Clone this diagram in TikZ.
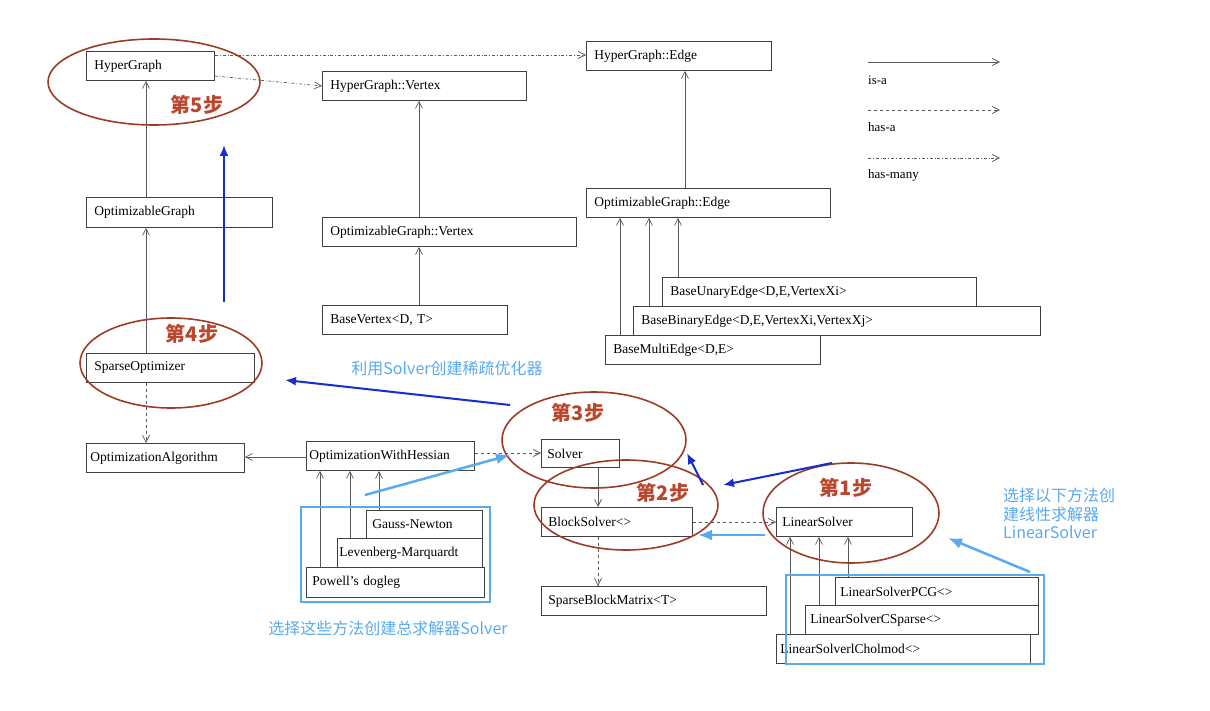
\documentclass[tikz,border=0pt]{standalone}
\usepackage{fontspec}
\setmainfont{Liberation Serif}
\newfontfamily\cjk{Noto Sans CJK SC}
\usetikzlibrary{arrows.meta}
\definecolor{stepred}{RGB}{185,70,45}
\definecolor{darkblue}{RGB}{25,45,200}
\definecolor{lightblue}{RGB}{90,170,240}
\tikzset{
  cls/.style={draw=black!75, line width=0.8pt, fill=white, inner sep=0pt, font=\fontsize{13.5}{15}\selectfont},
  isa/.style={draw=black!65, line width=0.7pt, -{Straight Barb[length=7pt,width=7pt]}},
  hasa/.style={isa, dashed},
  hasmany/.style={isa, dash dot},
  stepov/.style={draw=stepred!85!black, line width=1.6pt},
  steplab/.style={text=stepred, font=\cjk\bfseries\fontsize{20}{22}\selectfont},
  bigarrow/.style={draw=darkblue, line width=2pt, -{Latex[length=11pt,width=9pt]}},
  lightarrow/.style={draw=lightblue, line width=2.5pt, -{Latex[length=14pt,width=11pt]}},
  bluetxt/.style={text=lightblue, font=\cjk\fontsize{16}{17}\selectfont},
  selbox/.style={draw=lightblue, line width=2.5pt}
}
\begin{document}
\begin{tikzpicture}[x=1pt,y=-1pt]
\useasboundingbox (0,0) rectangle (1210,711);
\fill[white] (0,0) rectangle (1210,711);
% boxes
\node[cls,anchor=north west,minimum width=128pt,minimum height=29pt,text width=112pt] (hg) at (86,51) {HyperGraph};
\node[cls,anchor=north west,minimum width=204pt,minimum height=29pt,text width=188pt] (hgv) at (322,71) {HyperGraph::Vertex};
\node[cls,anchor=north west,minimum width=185pt,minimum height=29pt,text width=169pt] (hge) at (586,41) {HyperGraph::Edge};
\node[cls,anchor=north west,minimum width=186pt,minimum height=30pt,text width=170pt] (og) at (86,197) {OptimizableGraph};
\node[cls,anchor=north west,minimum width=254pt,minimum height=29pt,text width=238pt] (ogv) at (322,217) {OptimizableGraph::Vertex};
\node[cls,anchor=north west,minimum width=244pt,minimum height=29pt,text width=228pt] (oge) at (586,188) {OptimizableGraph::Edge};
\node[cls,anchor=north west,minimum width=185pt,minimum height=29pt,text width=169pt] (bv) at (322,305) {BaseVertex<D, T>};
\node[cls,anchor=north west,minimum width=314pt,minimum height=29pt,text width=298pt] (bue) at (662,277) {BaseUnaryEdge<D,E,VertexXi>};
\node[cls,anchor=north west,minimum width=407pt,minimum height=29pt,text width=391pt] (bbe) at (633,306) {BaseBinaryEdge<D,E,VertexXi,VertexXj>};
\node[cls,anchor=north west,minimum width=215pt,minimum height=29pt,text width=199pt] (bme) at (605,335) {BaseMultiEdge<D,E>};
\node[cls,anchor=north west,minimum width=168pt,minimum height=29pt,text width=152pt] (so) at (86,353) {SparseOptimizer};
\node[cls,anchor=north west,minimum width=158pt,minimum height=29pt,text width=150pt] (oa) at (86,443) {OptimizationAlgorithm};
\node[cls,anchor=north west,minimum width=168pt,minimum height=29pt,text width=162pt] (owh) at (306,441) {OptimizationWithHessian};
\node[cls,anchor=north west,minimum width=78pt,minimum height=28pt,text width=66pt] (sol) at (541,439) {Solver};
\node[cls,anchor=north west,minimum width=116pt,minimum height=28pt,text width=104pt] (gn) at (366,510) {Gauss-Newton};
\node[cls,anchor=north west,minimum width=145pt,minimum height=29pt,text width=141pt] (lm) at (337,538) {Levenberg-Marquardt};
\node[cls,anchor=north west,minimum width=178pt,minimum height=30pt,text width=166pt] (pd) at (306,567) {Powell's dogleg};
\node[cls,anchor=north west,minimum width=151pt,minimum height=29pt,text width=137pt] (bs) at (541,507) {BlockSolver<>};
\node[cls,anchor=north west,minimum width=225pt,minimum height=29pt,text width=211pt] (sbm) at (541,586) {SparseBlockMatrix<T>};
\node[cls,anchor=north west,minimum width=136pt,minimum height=29pt,text width=124pt] (ls) at (776,507) {LinearSolver};
\node[cls,anchor=north west,minimum width=203pt,minimum height=28pt,text width=193pt] (pcg) at (835,577) {LinearSolverPCG<>};
\node[cls,anchor=north west,minimum width=233pt,minimum height=29pt,text width=223pt] (csp) at (805,605) {LinearSolverCSparse<>};
\node[cls,anchor=north west,minimum width=254pt,minimum height=29pt,text width=246pt] (chm) at (776,634) {LinearSolverlCholmod<>};
% connectors
\draw[isa] (og.north -| 146,0) -- (hg.south -| 146,0);
\draw[isa] (so.north -| 146,0) -- (og.south -| 146,0);
\draw[hasa] (so.south -| 146,0) -- (oa.north -| 146,0);
\draw[isa] (ogv.north -| 419,0) -- (hgv.south -| 419,0);
\draw[isa] (bv.north -| 419,0) -- (ogv.south -| 419,0);
\draw[isa] (oge.north -| 685,0) -- (hge.south -| 685,0);
\draw[isa] (bue.north -| 678,0) -- (oge.south -| 678,0);
\draw[isa] (bbe.north -| 649,0) -- (oge.south -| 649,0);
\draw[isa] (bme.north -| 620,0) -- (oge.south -| 620,0);
\draw[hasmany] (hg.east |- 0,55) -- (hge.west |- 0,55);
\draw[hasmany] (hg.east |- 0,76) -- (hgv.west |- 0,86);
\draw[isa] (owh.west |- 0,457) -- (oa.east |- 0,457);
\draw[isa] (gn.north -| 379,0) -- (owh.south -| 379,0);
\draw[isa] (lm.north -| 350,0) -- (owh.south -| 350,0);
\draw[isa] (pd.north -| 320,0) -- (owh.south -| 320,0);
\draw[hasa] (owh.east |- 0,453) -- (sol.west |- 0,453);
\draw[isa] (sol.south -| 598,0) -- (bs.north -| 598,0);
\draw[hasa] (bs.south -| 598,0) -- (sbm.north -| 598,0);
\draw[hasa] (bs.east |- 0,522) -- (ls.west |- 0,522);
\draw[isa] (pcg.north -| 848,0) -- (ls.south -| 848,0);
\draw[isa] (csp.north -| 819,0) -- (ls.south -| 819,0);
\draw[isa] (chm.north -| 790,0) -- (ls.south -| 790,0);
% legend
\coordinate (l1a) at (868,62); \coordinate (l1b) at (1000,62);
\coordinate (l2a) at (868,110); \coordinate (l2b) at (1000,110);
\coordinate (l3a) at (868,158); \coordinate (l3b) at (1000,158);
\draw[isa] (l1a) -- (l1b);
\draw[hasa] (l2a) -- (l2b);
\draw[hasmany] (l3a) -- (l3b);
\node[anchor=west,inner sep=0pt,font=\fontsize{13}{15}\selectfont] (t1) at (868,80) {is-a};
\node[anchor=west,inner sep=0pt,font=\fontsize{13}{15}\selectfont] (t2) at (868,127) {has-a};
\node[anchor=west,inner sep=0pt,font=\fontsize{13}{15}\selectfont] (t3) at (868,175) {has-many};
% selection boxes
\draw[selbox] (301,507) rectangle (490,602);
\draw[selbox] (786,575) rectangle (1044,664);
% ellipses
\draw[stepov] (154,82) ellipse [x radius=106, y radius=43];
\draw[stepov] (171,363) ellipse [x radius=91, y radius=45];
\draw[stepov] (594,440) ellipse [x radius=92, y radius=48];
\draw[stepov] (626,505) ellipse [x radius=92, y radius=45];
\draw[stepov] (851,513) ellipse [x radius=88, y radius=50];
\node[steplab] (s5) at (197,105) {第5步};
\node[steplab] (s4) at (192,334) {第4步};
\node[steplab] (s3) at (578,413) {第3步};
\node[steplab] (s2) at (663,493) {第2步};
\node[steplab] (s1) at (846,488) {第1步};
% arrows
\coordinate (a1) at (224,302); \coordinate (a1e) at (224,145);
\coordinate (a2) at (510,405); \coordinate (a2e) at (285,380);
\coordinate (a3) at (703,485); \coordinate (a3e) at (687,453);
\coordinate (a4) at (832,463); \coordinate (a4e) at (723,485);
\draw[bigarrow] (a1) -- (a1e);
\draw[bigarrow] (a2) -- (a2e);
\draw[bigarrow] (a3) -- (a3e);
\draw[bigarrow] (a4) -- (a4e);
\coordinate (b1) at (365,495); \coordinate (b1e) at (510,455);
\coordinate (b2) at (765,535); \coordinate (b2e) at (698,535);
\coordinate (b3) at (1030,572); \coordinate (b3e) at (948,538);
\draw[lightarrow] (b1) -- (b1e);
\draw[lightarrow] (b2) -- (b2e);
\draw[lightarrow] (b3) -- (b3e);
\node[bluetxt] (n1) at (447,368) {利用Solver创建稀疏优化器};
\node[bluetxt] (n2) at (388,628) {选择这些方法创建总求解器Solver};
\node[bluetxt,anchor=north west,align=left,inner sep=0pt,font=\cjk\fontsize{16}{18.5}\selectfont] (n3) at (1003,488) {选择以下方法创\\建线性求解器\\LinearSolver};
\end{tikzpicture}
\end{document}
